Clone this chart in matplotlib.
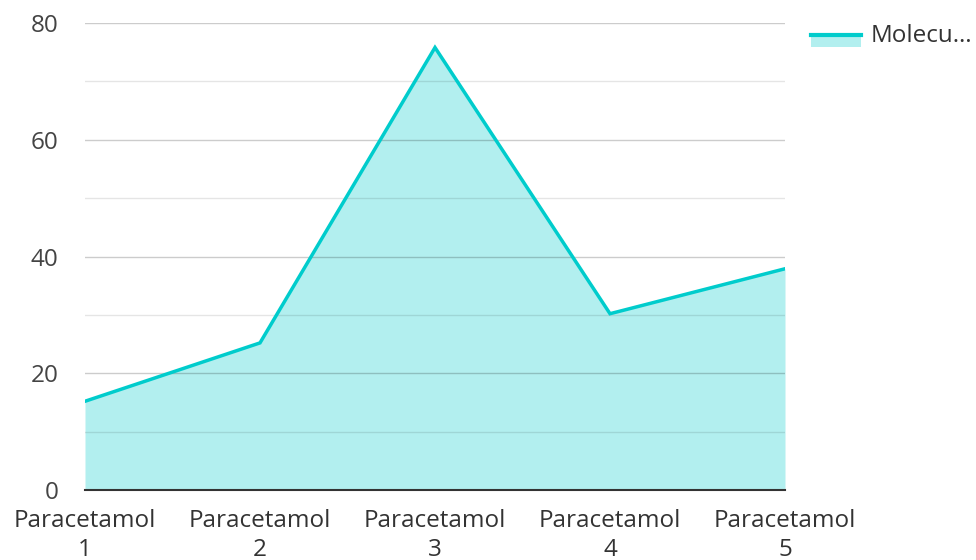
import matplotlib.pyplot as plt
from matplotlib.patches import Rectangle
from matplotlib.lines import Line2D

plt.rcParams['font.family'] = ['Open Sans', 'DejaVu Sans']

categories = ["Paracetamol\n1", "Paracetamol\n2", "Paracetamol\n3", "Paracetamol\n4", "Paracetamol\n5"]
values = [15.2, 25.2, 75.8, 30.2, 37.9]
series_name = "Molecu…"

line_color = "#00CCCC"
fill_color = "#B2EFEF"

fig = plt.figure(figsize=(9.76, 5.6), dpi=100)
ax = fig.add_axes([85 / 976, 1 - 490 / 560, 700 / 976, 467 / 560])

x = list(range(len(categories)))
ax.fill_between(x, values, 0, color=fill_color, lw=0, zorder=1)
ax.plot(x, values, color=line_color, lw=2.5, zorder=3, solid_joinstyle='miter')

ax.set_xlim(0, len(categories) - 1)
ax.set_ylim(0, 80)
ax.set_yticks([0, 20, 40, 60, 80])
ax.set_yticks([10, 30, 50, 70], minor=True)
ax.grid(axis='y', which='major', color='black', alpha=0.2, lw=1, zorder=2)
ax.grid(axis='y', which='minor', color='black', alpha=0.1, lw=1, zorder=2)
ax.set_axisbelow(False)
for s in ['top', 'right', 'left']:
    ax.spines[s].set_visible(False)
ax.spines['bottom'].set_color('#333333')
ax.spines['bottom'].set_linewidth(1.5)
ax.spines['bottom'].set_zorder(4)

ax.set_xticks(x)
ax.set_xticklabels(categories, fontsize=17.5, color='#333333', linespacing=1.25)
ax.tick_params(axis='both', which='both', length=0)
ax.tick_params(axis='x', pad=14)
ax.tick_params(axis='y', pad=19, labelsize=17.5, labelcolor='#444444')

# legend
fig.patches.append(Rectangle((811 / 976, 1 - 47 / 560), 50 / 976, 12 / 560,
                             transform=fig.transFigure, color=fill_color, lw=0))
fig.lines.append(Line2D([811 / 976, 861 / 976], [1 - 35 / 560, 1 - 35 / 560],
                        transform=fig.transFigure, color=line_color, lw=3))
fig.text(871 / 976, 1 - 36 / 560, series_name, fontsize=17.5, color='#333333', va='center')

fig.savefig("out.png", dpi=100)
